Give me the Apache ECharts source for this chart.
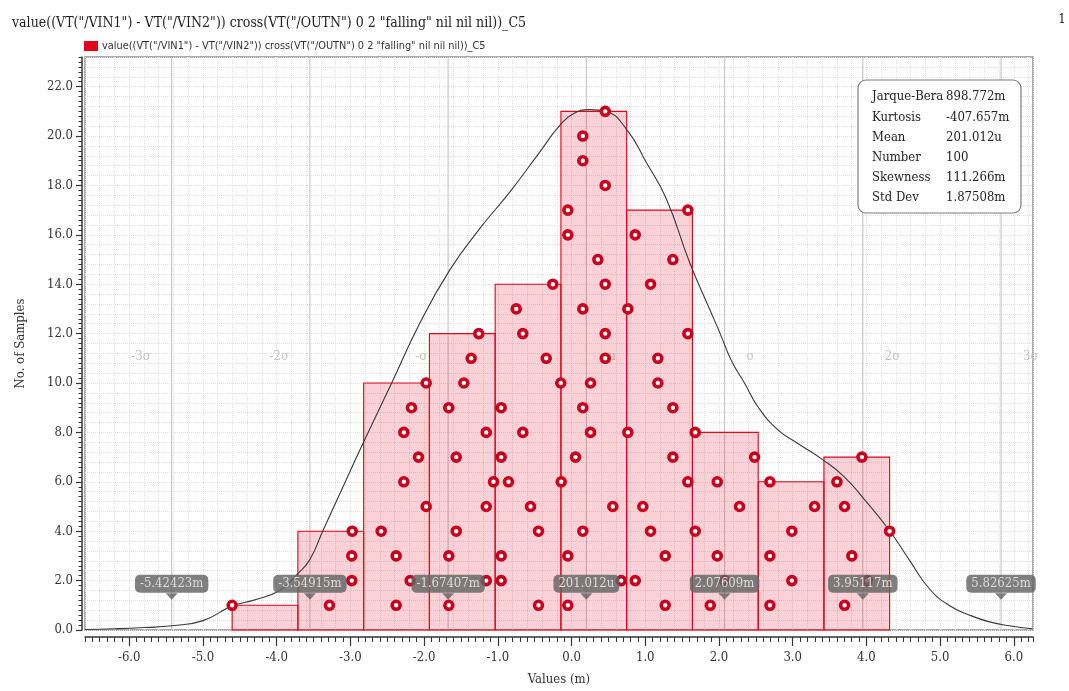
<!DOCTYPE html>
<html>
<head>
<meta charset="utf-8">
<script src="https://cdn.jsdelivr.net/npm/echarts@6/dist/echarts.min.js"></script>
<style>html,body{margin:0;padding:0;background:#fff;}#c{width:1069px;height:691px;}</style>
</head>
<body>
<div id="c"></div>
<script>
// ---------------- data ----------------
const chartTitle = 'value((VT("/VIN1") - VT("/VIN2")) cross(VT("/OUTN") 0 2 "falling" nil nil nil))_C5';
const pageNumber = '1';
const seriesName = chartTitle;
const xAxisName = 'Values (m)';
const yAxisName = 'No. of Samples';

// histogram bin edges (m)
const binEdges = [-4.604, -3.712, -2.820, -1.928, -1.036, -0.144, 0.748, 1.640, 2.532, 3.424, 4.315];
// samples per bin, in stacking order (bottom to top)
const bin1 = [-4.604];
const bin2 = [-3.284, -2.981, -2.981, -2.975];
const bin3 = [-2.379, -2.189, -2.379, -2.582, -1.972, -2.275, -2.076, -2.275, -2.171, -1.972];
const bin4 = [-1.665, -1.157, -1.665, -1.564, -1.157, -1.058, -1.564, -1.157, -1.665, -1.461, -1.361, -1.258];
const bin5 = [-0.448, -0.954, -0.954, -0.448, -0.556, -0.855, -0.954, -0.661, -0.954, -0.146, -0.343, -0.661, -0.750, -0.254];
const bin6 = [-0.050, 0.674, -0.050, 0.153, 0.560, -0.140, 0.054, 0.258, 0.153, 0.258, 0.457, 0.457, 0.153, 0.457, 0.357, -0.050, -0.050, 0.457, 0.153, 0.153, 0.457];
const bin7 = [1.271, 0.864, 1.271, 1.072, 0.967, 1.578, 1.375, 0.764, 1.375, 1.171, 1.171, 1.578, 0.764, 1.072, 1.375, 0.864, 1.578];
const bin8 = [1.882, 2.076, 1.977, 1.678, 2.279, 1.977, 2.483, 1.678];
const bin9 = [2.691, 2.989, 2.691, 2.989, 3.297, 2.691];
const bin10 = [3.704, 4.012, 3.803, 4.315, 3.704, 3.600, 3.939];
const bins = [bin1, bin2, bin3, bin4, bin5, bin6, bin7, bin8, bin9, bin10];

// density curve (x in m, y in samples)
const curveX = [-6.6, -6.2, -5.8, -5.42, -5.0, -4.6, -4.32, -3.96, -3.71, -3.55, -3.37, -3.1, -2.83, -2.43, -2.062, -1.655, -1.248, -0.841, -0.434, -0.163, 0.018, 0.244, 0.47, 0.742, 1.013, 1.285, 1.601, 1.872, 2.008, 2.17, 2.35, 2.53, 2.8, 3.07, 3.42, 3.7, 3.98, 4.31, 4.59, 4.86, 5.13, 5.4, 5.67, 5.94, 6.25];
const curveY = [0.02, 0.05, 0.1, 0.17, 0.38, 0.98, 1.2, 1.6, 2.29, 2.85, 4.04, 5.8, 7.55, 10.06, 12.4, 14.56, 16.24, 17.72, 19.34, 20.42, 20.89, 21.07, 20.99, 20.29, 18.94, 17.46, 14.89, 13.0, 12.06, 10.9, 9.98, 9.03, 8.1, 7.55, 6.87, 6.2, 5.26, 4.04, 2.8, 1.65, 0.98, 0.6, 0.33, 0.17, 0.05];

// sigma markers
const sigmaValues = [-5.42423, -3.54915, -1.67407, 0.201012, 2.07609, 3.95117, 5.82625];
const sigmaTags = ['-5.42423m', '-3.54915m', '-1.67407m', '201.012u', '2.07609m', '3.95117m', '5.82625m'];
const sigmaNames = ['-3σ', '-2σ', '-σ', 'μ', 'σ', '2σ', '3σ'];

// statistics box
const statNames = ['Jarque-Bera', 'Kurtosis', 'Mean', 'Number', 'Skewness', 'Std Dev'];
const statValues = ['898.772m', '-407.657m', '201.012u', '100', '111.266m', '1.87508m'];

// axis ranges
const xMin = -6.6, xMax = 6.26;
const yMin = 0, yMax = 23.2;

// ---------------- build ----------------
const SERIF = "'DejaVu Serif Condensed', 'DejaVu Serif', serif";
const histData = bins.map((b, i) => [binEdges[i], binEdges[i + 1], b.length]);
const dotData = [];
bins.forEach(b => b.forEach((v, k) => dotData.push([v, k + 1])));
const curveData = curveX.map((x, i) => [x, curveY[i]]);
const sigmaData = sigmaValues.map((v, i) => [v, i]);

const chart = echarts.init(document.getElementById('c'), null, {renderer: 'canvas'});

const statGraphics = [{
  type: 'rect', z: 200,
  shape: {x: 858, y: 80, width: 163, height: 133, r: 8},
  style: {fill: '#ffffff', stroke: '#7d7d7d', lineWidth: 1.2}
}];
statNames.forEach((n, i) => {
  statGraphics.push({type: 'text', z: 201, x: 872, y: 97 + i * 20.2,
    style: {text: n, fill: '#222', font: '13px ' + SERIF, verticalAlign: 'middle', align: 'left'}});
  statGraphics.push({type: 'text', z: 201, x: 946, y: 97 + i * 20.2,
    style: {text: statValues[i], fill: '#222', font: '13px ' + SERIF, verticalAlign: 'middle', align: 'left'}});
});
statGraphics.push({type: 'text', z: 201, x: 1062, y: 20,
  style: {text: pageNumber, fill: '#222', font: '13px ' + SERIF, verticalAlign: 'middle', align: 'center'}});

const axisCommonHidden = {axisLine: {show: false, onZero: false}, axisTick: {show: false}, axisLabel: {show: false}};

const option = {
  backgroundColor: '#ffffff',
  animation: false,
  title: {
    text: chartTitle, left: 7, top: 11,
    textStyle: {fontSize: 14, fontWeight: 'normal', color: '#222', fontFamily: SERIF}
  },
  legend: {
    data: [seriesName], left: 84, top: 41, padding: 0,
    icon: 'rect', itemWidth: 14, itemHeight: 10, itemGap: 4,
    textStyle: {fontSize: 9.8, color: '#333', fontFamily: "'DejaVu Sans', sans-serif", padding: [0, 0, 0, -1]}
  },
  grid: {
    left: 85, right: 36, top: 57, bottom: 61,
    show: true, borderColor: '#8a8a8a', borderWidth: 1.5, backgroundColor: '#ffffff'
  },
  xAxis: [
    { // main axis: labels + major ticks + major grid
      type: 'value', min: xMin, max: xMax, splitNumber: 13, position: 'bottom', offset: 7,
      name: xAxisName, nameLocation: 'middle', nameGap: 36,
      nameTextStyle: {fontSize: 13, color: '#333', fontFamily: SERIF},
      axisLine: {show: true, onZero: false, lineStyle: {color: '#333', width: 1.5}},
      axisTick: {show: true, length: 9, lineStyle: {color: '#333', width: 1.2}},
      axisLabel: {show: true, margin: 14, fontSize: 13, color: '#333', fontFamily: SERIF,
        showMinLabel: false, showMaxLabel: false, formatter: v => v.toFixed(1)},
      splitLine: {show: true, lineStyle: {color: '#bdbdbd', type: 'dotted', width: 1}},
      minorTick: {show: false}, minorSplitLine: {show: false}
    },
    { // minor ticks every 0.1
      type: 'value', min: xMin, max: xMax, interval: 0.1, position: 'bottom', offset: 7,
      axisLine: {show: false, onZero: false},
      axisTick: {show: true, length: 5, lineStyle: {color: '#333', width: 1}},
      axisLabel: {show: false}, splitLine: {show: false}
    },
    { // minor grid every 0.2
      type: 'value', min: xMin, max: xMax, interval: 0.2, position: 'top',
      ...axisCommonHidden,
      splitLine: {show: true, lineStyle: {color: '#e0e0e0', type: 'dotted', width: 1}}
    }
  ],
  yAxis: [
    {
      type: 'value', min: yMin, max: yMax, interval: 2, position: 'left', offset: 3,
      name: yAxisName, nameLocation: 'middle', nameGap: 55,
      nameTextStyle: {fontSize: 13, color: '#333', fontFamily: SERIF},
      axisLine: {show: true, onZero: false, lineStyle: {color: '#333', width: 1.5}},
      axisTick: {show: true, length: 6, lineStyle: {color: '#333', width: 1.2}},
      axisLabel: {show: true, margin: 9, fontSize: 13, color: '#333', fontFamily: SERIF,
        showMaxLabel: false, formatter: v => v.toFixed(1)},
      splitLine: {show: true, lineStyle: {color: '#bdbdbd', type: 'dotted', width: 1}}
    },
    {
      type: 'value', min: yMin, max: yMax, interval: 0.2, position: 'left', offset: 3,
      axisLine: {show: false, onZero: false},
      axisTick: {show: true, length: 3.5, lineStyle: {color: '#333', width: 1}},
      axisLabel: {show: false}, splitLine: {show: false}
    },
    {
      type: 'value', min: yMin, max: yMax, interval: 0.4, position: 'right',
      ...axisCommonHidden,
      splitLine: {show: true, lineStyle: {color: '#e0e0e0', type: 'dotted', width: 1}}
    }
  ],
  series: [
    {
      name: 'sigmaLines', type: 'custom', z: 2, silent: true,
      data: sigmaData,
      renderItem: function (params, api) {
        const v = api.value(0);
        const i = api.value(1);
        const b = api.coord([v, yMin]);
        const t = api.coord([v, yMax]);
        const lp = api.coord([v, 11.05]);
        const neg = v < 0.1;
        return {
          type: 'group',
          children: [
            {type: 'line', shape: {x1: b[0], y1: b[1], x2: t[0], y2: t[1]},
              style: {stroke: '#c9c9c9', lineWidth: 1.2}},
            {type: 'text', x: neg ? lp[0] - 21 : lp[0] + 22, y: lp[1],
              style: {text: sigmaNames[i], fill: '#c4c4c4', font: '13px ' + SERIF,
                align: neg ? 'right' : 'left', verticalAlign: 'middle'}}
          ]
        };
      }
    },
    {
      name: seriesName, type: 'custom', z: 3,
      itemStyle: {color: '#e3001b'},
      data: histData,
      renderItem: function (params, api) {
        const p0 = api.coord([api.value(0), 0]);
        const p1 = api.coord([api.value(1), api.value(2)]);
        return {
          type: 'rect',
          shape: {x: p0[0], y: p1[1], width: p1[0] - p0[0], height: p0[1] - p1[1]},
          style: {fill: 'rgba(226,0,30,0.18)', stroke: '#e3001b', lineWidth: 1.1}
        };
      }
    },
    {
      name: 'density', type: 'line', z: 4, data: curveData,
      smooth: 0.5, showSymbol: false, symbol: 'none',
      lineStyle: {color: '#383838', width: 1.1}, silent: true
    },
    {
      name: 'samples', type: 'scatter', z: 5, data: dotData,
      symbol: 'circle', symbolSize: 8,
      itemStyle: {color: '#ffffff', borderColor: '#c8001e', borderWidth: 3.6, opacity: 1}
    },
    {
      name: 'sigmaTags', type: 'custom', z: 6, silent: true,
      data: sigmaData,
      renderItem: function (params, api) {
        const v = api.value(0);
        const i = api.value(1);
        const c = api.coord([v, 1.87]);
        return {
          type: 'group',
          children: [
            {type: 'text', x: c[0], y: c[1],
              style: {text: sigmaTags[i], fill: '#dcdcdc', font: '13px ' + SERIF,
                align: 'center', verticalAlign: 'middle',
                backgroundColor: 'rgba(100,100,100,0.82)', padding: [3, 5, 2, 5], borderRadius: 5}},
            {type: 'polygon', shape: {points: [[c[0] - 6, c[1] + 9.5], [c[0] + 6, c[1] + 9.5], [c[0], c[1] + 16]]},
              style: {fill: 'rgba(100,100,100,0.82)'}}
          ]
        };
      }
    }
  ],
  graphic: statGraphics
};
chart.setOption(option);
</script>
</body>
</html>
